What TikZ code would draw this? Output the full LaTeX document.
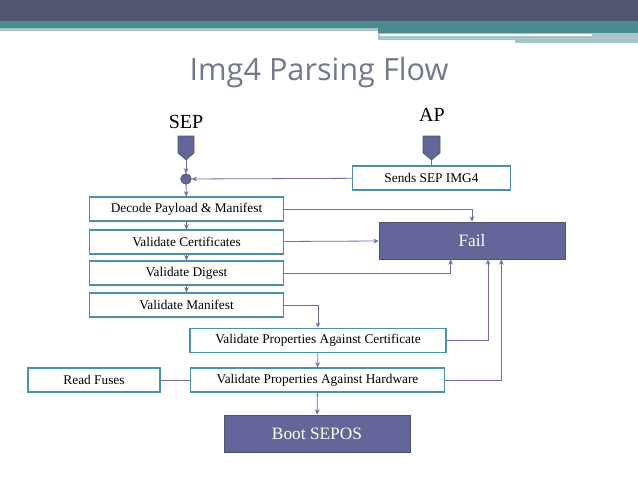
\documentclass[tikz,border=0pt]{standalone}
\usepackage{fontspec}
\setmainfont{Liberation Serif}
\newfontfamily\titlefont{Open Sans}
\usetikzlibrary{arrows.meta}
\definecolor{dark}{HTML}{505670}
\definecolor{teal}{HTML}{4A8A90}
\definecolor{lteal}{HTML}{A6C6CA}
\definecolor{bord}{HTML}{4A90A8}
\definecolor{purp}{HTML}{64669A}
\definecolor{conn}{HTML}{6A6EA8}
\tikzset{
 box/.style={draw=bord,line width=0.8pt,fill=white,inner sep=0pt,font=\fontsize{10}{12}\selectfont},
 dbox/.style={draw=dark,fill=purp,text=white,inner sep=0pt,font=\fontsize{13}{15}\selectfont},
 con/.style={draw=conn,line width=0.6pt,-{Stealth[length=4pt,width=3.5pt]}},
 lab/.style={font=\fontsize{15}{18}\selectfont}
}
\begin{document}
\begin{tikzpicture}[x=0.75pt,y=-0.75pt]
\useasboundingbox (0,0) rectangle (638,478);
% banner
\fill[dark] (0,0) rectangle (638,21);
\fill[teal] (0,21) rectangle (638,28);
\fill[lteal] (0,28) rectangle (378,31);
\fill[teal] (378,28) rectangle (638,33);
\fill[lteal] (378,33) rectangle (638,43);
\fill[white] (380,34.5) rectangle (592,36);
\fill[white] (378,40) rectangle (515,43);
% title
\node[text=dark!80,font=\titlefont\fontsize{23}{26}\selectfont] (title) at (319,73) {Img4 Parsing Flow};
\node[lab] (sep) at (186,122) {SEP};
\node[lab] (ap) at (432,115) {AP};
\fill[purp,draw=dark] (178,136) -- (194,136) -- (194,153) -- (186,160) -- (178,153) -- cycle;
\coordinate (sepb) at (186,160);
\fill[purp,draw=dark] (423,136) -- (440,136) -- (440,153) -- (431.5,160) -- (423,153) -- cycle;
\coordinate (apb) at (431.5,160);
\node[circle,fill=purp,draw=dark,minimum size=8pt,inner sep=0pt] (dot) at (186,179) {};
\node[box,minimum width=118pt,minimum height=18pt] (sends) at (431.5,178) {Sends SEP IMG4};
\node[box,minimum width=146pt,minimum height=18pt] (dec) at (186.5,209) {Decode Payload \& Manifest};
\node[box,minimum width=146pt,minimum height=18pt] (cert) at (186.5,242) {Validate Certificates};
\node[box,minimum width=146pt,minimum height=18pt] (dig) at (186.5,273) {Validate Digest};
\node[box,minimum width=146pt,minimum height=18pt] (man) at (186.5,305) {Validate Manifest};
\node[dbox,minimum width=139.5pt,minimum height=28pt] (fail) at (472,240.5) {Fail};
\node[box,minimum width=192pt,minimum height=18.5pt] (vpac) at (318,340.5) {Validate Properties Against Certificate};
\node[box,minimum width=191pt,minimum height=18pt] (vpah) at (317.5,380) {Validate Properties Against Hardware};
\node[box,minimum width=99pt,minimum height=18pt] (fuse) at (94,380) {Read Fuses};
\node[dbox,minimum width=139.5pt,minimum height=28pt] (boot) at (317,433.5) {Boot SEPOS};
% connectors
\draw[con] (sepb) -- (dot);
\draw[conn,line width=0.6pt] (apb) -- (sends);
\draw[con] (sends) -- (dot);
\draw[con] (dot) -- (dec);
\draw[con] (dec) -- (cert);
\draw[con] (cert) -- (dig);
\draw[con] (dig) -- (man);
\draw[con] (dec.east) -| (fail.north);
\draw[con] (cert) -- (fail);
\draw[con] (dig.east) -| ([xshift=-16]fail.south);
\draw[con] (man.east) -| (vpac.north);
\draw[con] (vpac.east) -| ([xshift=12]fail.south);
\draw[con] (vpac) -- (vpah);
\draw[con] (vpah.east) -| ([xshift=22]fail.south);
\draw[conn,line width=0.6pt] (fuse) -- (vpah);
\draw[con] (vpah) -- (boot);
\end{tikzpicture}
\end{document}
